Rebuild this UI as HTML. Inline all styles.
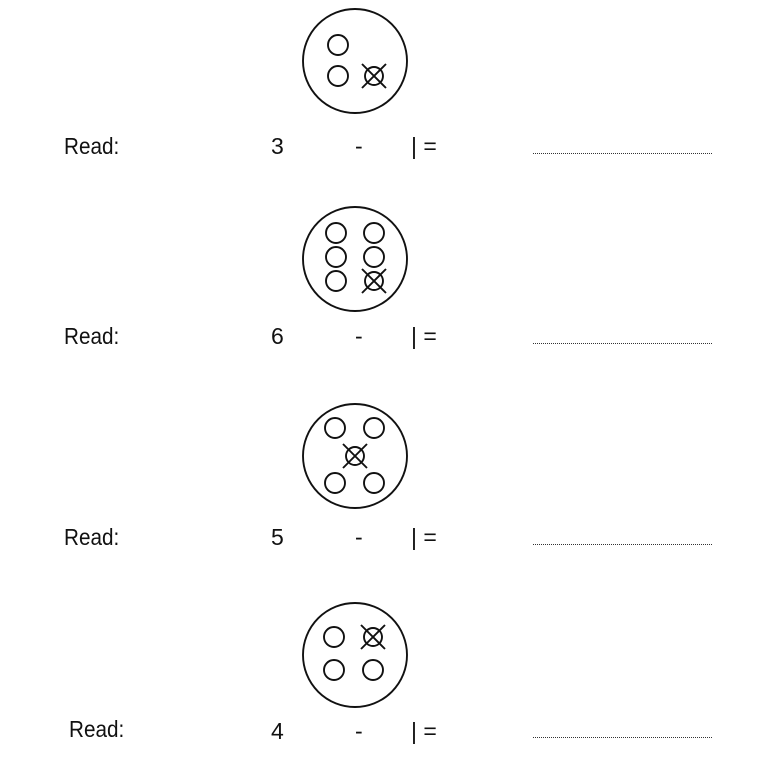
<!DOCTYPE html>
<html><head><style>
body{margin:0;width:757px;height:762px;background:#fff;position:relative;overflow:hidden;font-family:"Liberation Sans",sans-serif;color:#111}
.t{position:absolute;font-size:23px;line-height:1}
.r{transform:scaleX(0.9);transform-origin:left}
.d{position:absolute;width:179px;height:0;border-bottom:1.6px dotted #333}
</style></head><body>
<svg width="757" height="762" style="position:absolute;left:0;top:0" fill="none" stroke="#111" stroke-width="1.9">
<circle cx="355" cy="61" r="52"/>
<circle cx="338" cy="45" r="10"/><circle cx="338" cy="76" r="10"/>
<circle cx="374" cy="76" r="9"/><path d="M362 64L386 88M386 64L362 88"/>
<circle cx="355" cy="259" r="52"/>
<circle cx="336" cy="233" r="10"/><circle cx="374" cy="233" r="10"/>
<circle cx="336" cy="257" r="10"/><circle cx="374" cy="257" r="10"/>
<circle cx="336" cy="281" r="10"/><circle cx="374" cy="281" r="9"/><path d="M362 269L386 293M386 269L362 293"/>
<circle cx="355" cy="456" r="52"/>
<circle cx="335" cy="428" r="10"/><circle cx="374" cy="428" r="10"/>
<circle cx="355" cy="456" r="9"/><path d="M343 444L367 468M367 444L343 468"/>
<circle cx="335" cy="483" r="10"/><circle cx="374" cy="483" r="10"/>
<circle cx="355" cy="655" r="52"/>
<circle cx="334" cy="637" r="10"/><circle cx="373" cy="637" r="9"/><path d="M361 625L385 649M385 625L361 649"/>
<circle cx="334" cy="670" r="10"/><circle cx="373" cy="670" r="10"/>
</svg>
<div class="t r" style="left:64px;top:135px">Read:</div>
<div class="t" style="left:271px;top:135px">3</div>
<div class="t" style="left:355px;top:135px">-</div>
<div class="t" style="left:411px;top:135px">| =</div>
<div class="d" style="left:533px;top:153px"></div>

<div class="t r" style="left:64px;top:325px">Read:</div>
<div class="t" style="left:271px;top:325px">6</div>
<div class="t" style="left:355px;top:325px">-</div>
<div class="t" style="left:411px;top:325px">| =</div>
<div class="d" style="left:533px;top:343px"></div>

<div class="t r" style="left:64px;top:526px">Read:</div>
<div class="t" style="left:271px;top:526px">5</div>
<div class="t" style="left:355px;top:526px">-</div>
<div class="t" style="left:411px;top:526px">| =</div>
<div class="d" style="left:533px;top:544px"></div>

<div class="t r" style="left:69px;top:718px">Read:</div>
<div class="t" style="left:271px;top:720px">4</div>
<div class="t" style="left:355px;top:720px">-</div>
<div class="t" style="left:411px;top:720px">| =</div>
<div class="d" style="left:533px;top:737px"></div>
</body></html>
